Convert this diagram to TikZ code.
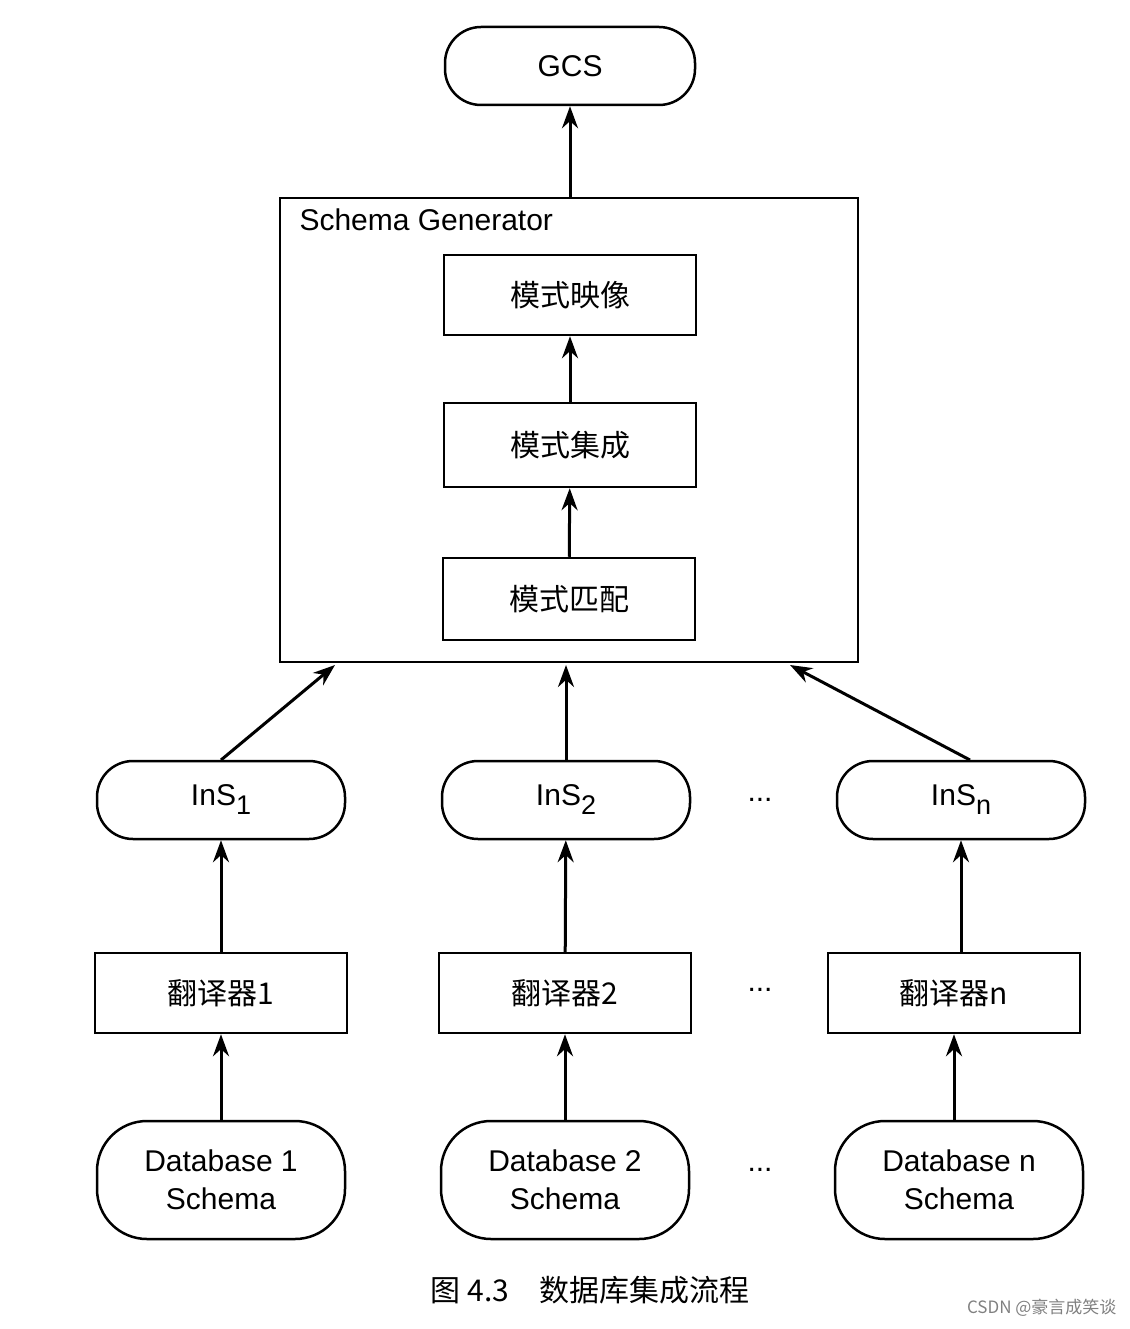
\documentclass[tikz,border=0pt]{standalone}
\usepackage{fontspec}
\setmainfont{Liberation Sans}
\newfontfamily\cjk{Noto Sans CJK SC}
\usetikzlibrary{arrows.meta}
\newcommand{\mysub}[1]{\raisebox{-9pt}{\fontsize{27}{30}\selectfont #1}}
\begin{document}
\begin{tikzpicture}[x=1pt,y=-1pt,
  every node/.style={font=\fontsize{30}{34}\selectfont},
  rbox/.style={draw,line width=2.5pt,rounded corners=36pt,minimum width=248pt,minimum height=78pt,align=center,inner sep=0pt},
  sbox/.style={draw,line width=2.5pt,minimum width=252pt,minimum height=80pt,inner sep=0pt,font=\cjk\fontsize{30}{34}\selectfont},
  arr/.style={line width=3pt,-{Stealth[length=22pt,width=16pt]}}]
\useasboundingbox (0,0) rectangle (1129,1329);
\node[rbox,minimum width=250pt] (gcs) at (570,66) {GCS};
\node[draw,line width=2.5pt,minimum width=578pt,minimum height=464pt,inner sep=0pt] (sg) at (569,430) {};
\node[anchor=west] (sgl) at (296,220) {Schema Generator};
\node[sbox] (m1) at (570,295) {模式映像};
\node[sbox,minimum height=84pt] (m2) at (570,445) {模式集成};
\node[sbox,minimum height=82pt] (m3) at (569,599) {模式匹配};
\draw[arr] (sg.north -| gcs) -- (gcs.south);
\draw[arr] (m3) -- (m2);
\draw[arr] (m2) -- (m1);
\node[rbox] (i1) at (221,800) {InS\mysub{1}};
\node[rbox] (i2) at (566,800) {InS\mysub{2}};
\node[rbox] (in) at (961,800) {InS\mysub{n}};
\coordinate (e1) at (335,665);
\coordinate (e2) at (566,665);
\coordinate (en) at (790,665);
\draw[arr] (221,760) -- (e1);
\draw[arr] (i2.north) -- (e2);
\draw[arr] (970,760) -- (en);
\node[sbox] (t1) at (221,993) {翻译器1};
\node[sbox] (t2) at (565,993) {翻译器2};
\node[sbox] (tn) at (954,993) {翻译器n};
\node[rbox,minimum height=118pt,rounded corners=50pt,font=\fontsize{30}{38}\selectfont] (d1) at (221,1180) {Database 1\\Schema};
\node[rbox,minimum height=118pt,rounded corners=50pt,font=\fontsize{30}{38}\selectfont] (d2) at (565,1180) {Database 2\\Schema};
\node[rbox,minimum height=118pt,rounded corners=50pt,font=\fontsize{30}{38}\selectfont] (dn) at (959,1180) {Database n\\Schema};
\draw[arr] (t1) -- (i1);
\draw[arr] (t2) -- (i2);
\draw[arr] (tn.north -| in) -- (in);
\draw[arr] (d1) -- (t1);
\draw[arr] (d2) -- (t2);
\draw[arr] (dn.north -| tn) -- (tn);
\node (p1) at (760,800) {...};
\node (p2) at (760,990) {...};
\node (p3) at (760,1170) {...};
\node[font=\cjk\fontsize{30}{34}\selectfont] (cap) at (590,1290) {图 4.3\quad 数据库集成流程};
\node[font=\cjk\fontsize{17}{20}\selectfont,text=gray,anchor=east] (wm) at (1120,1308) {CSDN @豪言成笑谈};
\end{tikzpicture}
\end{document}
